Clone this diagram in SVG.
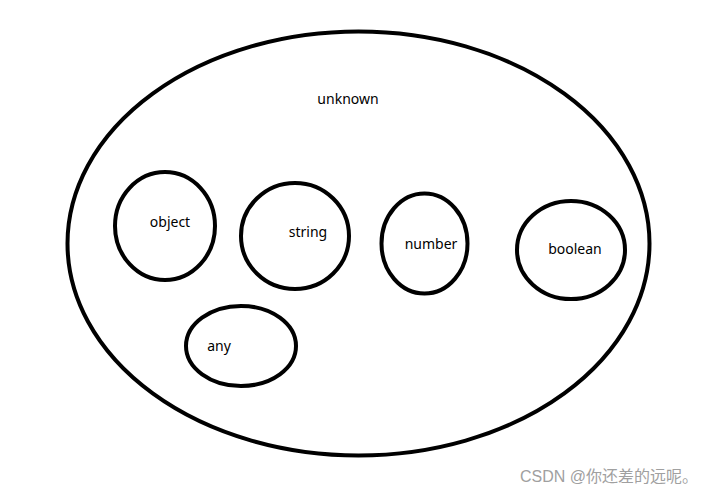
<svg xmlns="http://www.w3.org/2000/svg" width="704" height="494" viewBox="0 0 704 494">
<style>
ellipse{fill:none;stroke:#000;stroke-width:4}
text{font-family:"Microsoft YaHei","Noto Sans","Liberation Sans",sans-serif;font-size:14px;fill:#000;text-anchor:middle;dominant-baseline:middle}
.wm{font-family:"Liberation Sans","Noto Sans CJK SC",sans-serif;font-size:16px;fill:#a0a0a0;text-anchor:end}
</style>
<rect width="704" height="494" fill="#fff"/>
<g id="unknown"><ellipse cx="358.5" cy="243.5" rx="291" ry="212"/><text x="348" y="100">unknown</text></g>
<g id="object"><ellipse cx="165" cy="226" rx="50" ry="54"/><text x="170" y="223">object</text></g>
<g id="string"><ellipse cx="295" cy="236" rx="54" ry="53"/><text x="308" y="233">string</text></g>
<g id="number"><ellipse cx="424.5" cy="243.5" rx="43" ry="50"/><text x="431" y="245">number</text></g>
<g id="boolean"><ellipse cx="571" cy="250" rx="54" ry="49"/><text x="575" y="250">boolean</text></g>
<g id="any"><ellipse cx="241" cy="346" rx="55" ry="40"/><text x="219" y="347">any</text></g>
<g id="connectors"/>
<text class="wm" x="698" y="478">CSDN @你还差的远呢。</text>
</svg>
